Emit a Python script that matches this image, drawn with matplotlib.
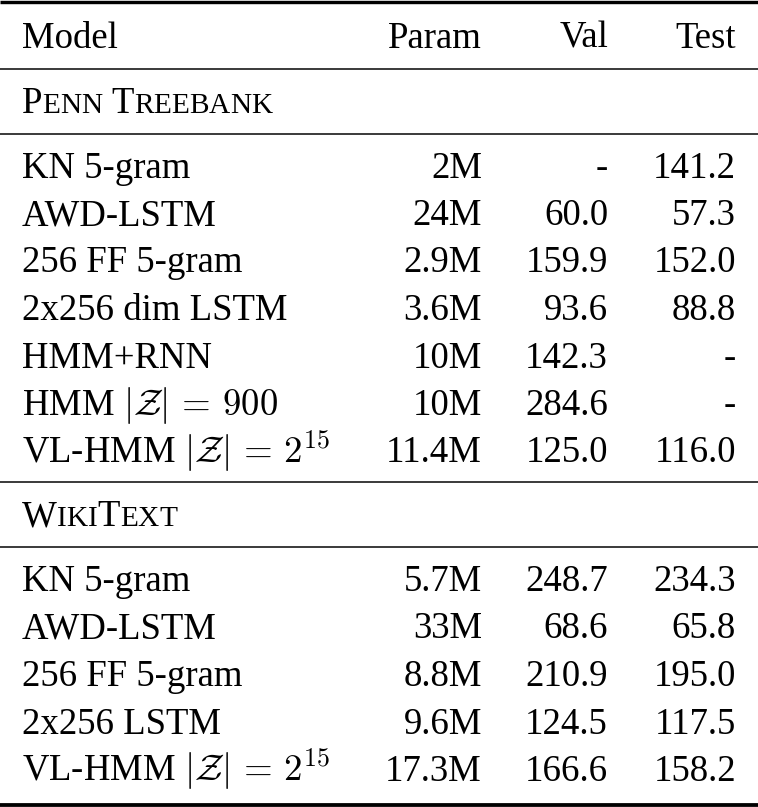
import matplotlib
matplotlib.use("Agg")
import matplotlib.pyplot as plt

plt.rcParams['font.family'] = ['Liberation Serif', 'DejaVu Serif']
plt.rcParams['mathtext.fontset'] = 'cm'

header = ["Model", "Param", "Val", "Test"]

ptb_title = "Penn Treebank"
ptb_models = ["KN 5-gram", "AWD-LSTM", "256 FF 5-gram", "2x256 dim LSTM", "HMM+RNN",
              r"HMM $|\mathcal{Z}|\,=\,900$", r"VL-HMM $|\mathcal{Z}|\,=\,2^{15}$"]
ptb_param = ["2M", "24M", "2.9M", "3.6M", "10M", "10M", "11.4M"]
ptb_val = ["-", "60.0", "159.9", "93.6", "142.3", "284.6", "125.0"]
ptb_test = ["141.2", "57.3", "152.0", "88.8", "-", "-", "116.0"]

wt_title = "WikiText"
wt_models = ["KN 5-gram", "AWD-LSTM", "256 FF 5-gram", "2x256 LSTM",
             r"VL-HMM $|\mathcal{Z}|\,=\,2^{15}$"]
wt_param = ["5.7M", "33M", "8.8M", "9.6M", "17.3M"]
wt_val = ["248.7", "68.6", "210.9", "124.5", "166.6"]
wt_test = ["234.3", "65.8", "195.0", "117.5", "158.2"]

W, H = 758, 807
fig = plt.figure(figsize=(W / 100, H / 100), dpi=100)
ax = fig.add_axes([0, 0, 1, 1])
ax.set_xlim(0, W)
ax.set_ylim(H, 0)
ax.axis('off')

FS = 26.5
x_model, x_param, x_val, x_test = 22, 482, 608, 736
row_h = 47.5

def rule(y, px):
    ax.plot([0, W], [y, y], color='black', lw=px * 0.72, solid_capstyle='butt')

def row(y, cells):
    m, p, v, t = cells
    ax.text(x_model, y, m, fontsize=FS, ha='left', va='baseline')
    ax.text(x_param, y, p, fontsize=FS, ha='right', va='baseline')
    ax.text(x_val, y, v, fontsize=FS, ha='right', va='baseline')
    ax.text(x_test, y, t, fontsize=FS, ha='right', va='baseline')

renderer = fig.canvas.get_renderer()

def smallcaps(x, y, s):
    inv = ax.transData.inverted()
    for word_i, word in enumerate(s.split(" ")):
        if word_i > 0:
            x += FS * 100 / 72 * 0.25
        for ch in word:
            if ch.isupper():
                t = ax.text(x, y, ch, fontsize=FS, va='baseline')
            else:
                t = ax.text(x, y, ch.upper(), fontsize=FS * 0.8, va='baseline')
            bb = t.get_window_extent(renderer)
            x = inv.transform((bb.x1, bb.y0))[0]

rule(1.7, 3.4)
row(48, header)
rule(68.5, 1.5)
smallcaps(x_model, 113, ptb_title)
rule(134, 1.5)
y0 = 177.5
for i in range(len(ptb_models)):
    row(y0 + i * row_h, [ptb_models[i], ptb_param[i], ptb_val[i], ptb_test[i]])
rule(482, 1.5)
smallcaps(x_model, 526.5, wt_title)
rule(547, 1.5)
y1 = 591
for i in range(len(wt_models)):
    row(y1 + i * row_h, [wt_models[i], wt_param[i], wt_val[i], wt_test[i]])
rule(805, 3.8)

fig.savefig("out.png", dpi=100)
